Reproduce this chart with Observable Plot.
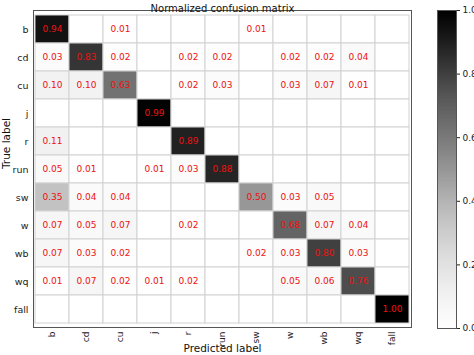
<!DOCTYPE html>
<html>
<head>
<meta charset="utf-8">
<script src="https://cdn.jsdelivr.net/npm/d3@7"></script>
<script src="https://cdn.jsdelivr.net/npm/@observablehq/plot@0.6"></script>
<style>
  html, body { margin: 0; padding: 0; background: #fff; }
  #wrap { position: relative; width: 474px; height: 355px; overflow: hidden; }
  #wrap svg { position: absolute; top: 0; overflow: visible; font-family: "DejaVu Sans", sans-serif; }
</style>
</head>
<body>
<div id="wrap"></div>
<script>
const labels = ["b", "cd", "cu", "j", "r", "run", "sw", "w", "wb", "wq", "fall"];
// rows = true label, columns = predicted label
const rowB    = [0.94, 0,    0.01, 0,    0,    0,    0.01, 0,    0,    0,    0];
const rowCd   = [0.03, 0.83, 0.02, 0,    0.02, 0.02, 0,    0.02, 0.02, 0.04, 0];
const rowCu   = [0.10, 0.10, 0.63, 0,    0.02, 0.03, 0,    0.03, 0.07, 0.01, 0];
const rowJ    = [0,    0,    0,    0.99, 0,    0,    0,    0,    0,    0,    0];
const rowR    = [0.11, 0,    0,    0,    0.89, 0,    0,    0,    0,    0,    0];
const rowRun  = [0.05, 0.01, 0,    0.01, 0.03, 0.88, 0,    0,    0,    0,    0];
const rowSw   = [0.35, 0.04, 0.04, 0,    0,    0,    0.50, 0.03, 0.05, 0,    0];
const rowW    = [0.07, 0.05, 0.07, 0,    0.02, 0,    0,    0.68, 0.07, 0.04, 0];
const rowWb   = [0.07, 0.03, 0.02, 0,    0,    0,    0.02, 0.03, 0.80, 0.03, 0];
const rowWq   = [0.01, 0.07, 0.02, 0.01, 0.02, 0,    0,    0.05, 0.06, 0.76, 0];
const rowFall = [0,    0,    0,    0,    0,    0,    0,    0,    0,    0,    1.00];
const matrix = [rowB, rowCd, rowCu, rowJ, rowR, rowRun, rowSw, rowW, rowWb, rowWq, rowFall];
const colorTicks = [0, 0.2, 0.4, 0.6, 0.8, 1.0];
const title = "Normalized confusion matrix";

const cells = [];
matrix.forEach((row, i) => row.forEach((v, j) => cells.push({truth: labels[i], pred: labels[j], v})));

const colorOpts = {type: "linear", scheme: "greys", domain: [0, 1]};

const main = Plot.plot({
  width: 474, height: 355,
  marginLeft: 33, marginRight: 63, marginTop: 10, marginBottom: 28,
  style: {fontFamily: "DejaVu Sans, sans-serif", fontSize: "9.5px", color: "#222", background: "transparent"},
  x: {domain: labels, padding: 0, label: null},
  y: {domain: labels, padding: 0, label: null},
  color: colorOpts,
  marks: [
    Plot.cell(cells, {x: "pred", y: "truth", fill: "v", stroke: "#d2d2d2", strokeWidth: 1}),
    Plot.text(cells.filter(d => d.v > 0), {x: "pred", y: "truth", text: d => d.v.toFixed(2), fill: "#ee1111", fontSize: 9}),
    Plot.frame({stroke: "#555", strokeWidth: 1}),
    Plot.axisY({tickSize: 0, tickPadding: 5, label: null, fontSize: 9.5, fill: "#222"}),
    Plot.axisX({tickSize: 0, tickPadding: 4, tickRotate: -90, label: null, fontSize: 9, fill: "#222"}),
    Plot.text([title], {frameAnchor: "top", dy: -6, fontSize: 10, fill: "#111"}),
    Plot.text(["Predicted label"], {frameAnchor: "bottom", dy: 24, fontSize: 10.5, fill: "#111"}),
    Plot.text(["True label"], {frameAnchor: "left", dx: -27, rotate: -90, fontSize: 10.5, fill: "#111"})
  ]
});
main.style.left = "0px";

const bar = Plot.plot({
  width: 54, height: 355,
  marginLeft: 17, marginRight: 18, marginTop: 10, marginBottom: 27,
  style: {fontFamily: "DejaVu Sans, sans-serif", fontSize: "9px", color: "#222", background: "transparent"},
  x: {domain: [0, 1], axis: null},
  y: {domain: [0, 1], label: null},
  color: colorOpts,
  marks: [
    Plot.raster({x1: 0, x2: 1, y1: 0, y2: 1, fill: (x, y) => y, width: 1, height: 200, imageRendering: "auto"}),
    Plot.frame({stroke: "#555", strokeWidth: 1}),
    Plot.axisY({anchor: "right", ticks: colorTicks, tickFormat: d3.format(".1f"), tickSize: 3, tickPadding: 3, label: null})
  ]
});
bar.style.left = "420px";

const wrap = document.getElementById("wrap");
wrap.appendChild(main);
wrap.appendChild(bar);
</script>
</body>
</html>
